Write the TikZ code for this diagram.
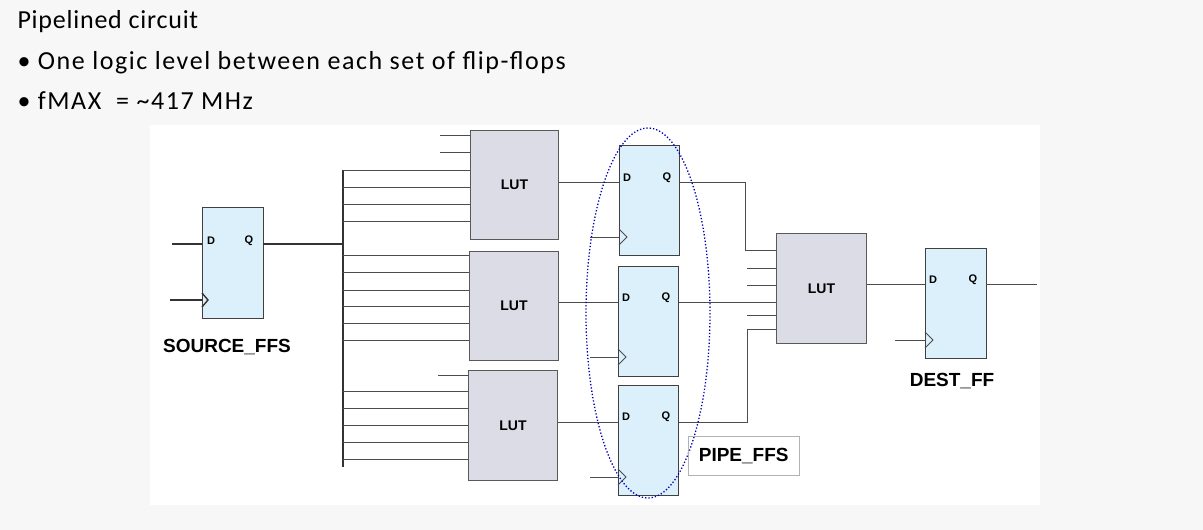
\documentclass[tikz,border=0pt]{standalone}
\usepackage{fontspec}
\setmainfont{Carlito}
\newfontfamily\arl{Liberation Sans}
\begin{document}
\begin{tikzpicture}[x=1pt,y=-1pt,
  ff/.style={draw=black!75,line width=1.2pt,fill=ffc,anchor=north west,inner sep=0},
  lut/.style={draw=black!65,line width=1pt,fill=lutc,anchor=north west,inner sep=0},
  w/.style={draw=black!70,line width=1pt},
  pin/.style={font=\arl\bfseries\fontsize{11}{12}\selectfont,inner sep=1pt},
  luttxt/.style={font=\arl\bfseries\fontsize{14}{16}\selectfont},
  lbl/.style={font=\arl\bfseries\fontsize{19}{22}\selectfont,inner sep=2pt},
  ttl/.style={anchor=west,font=\fontsize{26}{30}\selectfont}]
\definecolor{ffc}{HTML}{DCF0FB}
\definecolor{lutc}{HTML}{DCDCE6}
\useasboundingbox (0,0) rectangle (1203,530);
\fill[black!3] (0,0) rectangle (1203,530);
\fill[white] (150,125) rectangle (1040,505);
% text
\node[ttl] (t0) at (14,22) {\addfontfeature{LetterSpace=3}Pipelined circuit};
\node[ttl] (t1) at (14,63) {\addfontfeature{LetterSpace=6}\textbullet\ One logic level between each set of flip-flops};
\node[ttl] (t2) at (14,101) {\addfontfeature{LetterSpace=6}\textbullet\ fMAX \ = \textasciitilde417 MHz};
% source FF
\node[ff,minimum width=61,minimum height=111] (src) at (202,207) {};
\node[pin] at (211,241) {D}; \node[pin] at (249,241) {Q};
\draw[black!80,line width=1.6pt] (172,244) -- (202,244);
\draw[black!80,line width=1.6pt] (170,300) -- (202,300);
\draw[black!80,line width=1.4pt] (202,293) -- (208,300) -- (202,307);
\node[lbl] (srcl) at (227,347) {SOURCE\_FFS};
\coordinate (bt) at (343,170); \coordinate (bb) at (343,467);
\draw[black!80,line width=1.8pt] (bt) -- (bb);
\draw[black!80,line width=1.6pt] (263,244) -- (343,244);
% LUTs
\node[lut,minimum width=88,minimum height=109] (l1) at (470,130) {};
\node[lut,minimum width=89,minimum height=109] (l2) at (469,251) {};
\node[lut,minimum width=89,minimum height=110] (l3) at (468,370) {};
\node[luttxt] at (l1.center) {LUT};
\node[luttxt] at (l2.center) {LUT};
\node[luttxt] at (l3.center) {LUT};
\foreach \y in {135,152} \draw[w] (440,\y) -- (470,\y);
\foreach \y in {170,187,204,221} \draw[w] (343,\y) -- (470,\y);
\foreach \y in {255,272,290,306,323,340} \draw[w] (343,\y) -- (469,\y);
\draw[w] (438,375) -- (468,375);
\foreach \y in {391,408,425,442,459} \draw[w] (343,\y) -- (468,\y);
% pipe FFs
\node[ff,line width=1pt,minimum width=60,minimum height=110] (p1) at (619,145) {};
\node[ff,line width=1pt,minimum width=60,minimum height=110] (p2) at (618,266) {};
\node[ff,line width=1pt,minimum width=60,minimum height=110] (p3) at (618,385) {};
\foreach \n/\d/\c in {p1/182/237,p2/302/357,p3/422/477}{
  \draw[w] (590,\c) -- (\n.west |- 0,\c);
  \draw[black!70,line width=0.8pt] ([yshift=-8]\n.west |- 0,\c) -- ([xshift=8]\n.west |- 0,\c) -- ([yshift=8]\n.west |- 0,\c);
}
\node[pin] at (627,178) {D}; \node[pin] at (667,178) {Q};
\node[pin] at (626,298) {D}; \node[pin] at (666,298) {Q};
\node[pin] at (626,417) {D}; \node[pin] at (666,417) {Q};
\draw[w] (l1.east |- 0,182) -- (p1.west |- 0,182);
\draw[w] (l2.east |- 0,302) -- (p2.west |- 0,302);
\draw[w] (l3.east |- 0,422) -- (p3.west |- 0,422);
% LUT4
\node[lut,minimum width=90,minimum height=110] (l4) at (776,233) {};
\node[luttxt] at (l4.center) {LUT};
\draw[w] (p1.east |- 0,182) -- (745,182) -- (745,250) -- (776,250);
\draw[w] (p2.east |- 0,302) -- (776,302);
\draw[w] (p3.east |- 0,422) -- (747,422) -- (747,329) -- (776,329);
\foreach \y in {268,285,315} \draw[w] (747,\y) -- (776,\y);
% dest
\node[ff,line width=1pt,minimum width=61,minimum height=110] (dst) at (925,248) {};
\node[pin] at (933,280) {D}; \node[pin] at (973,280) {Q};
\draw[w] (l4.east |- 0,284) -- (925,284);
\draw[w] (986,284) -- (1037,284);
\draw[w] (895,340) -- (925,340);
\draw[black!70,line width=0.8pt] (925,332) -- (933,340) -- (925,348);
\node[lbl] (dstl) at (952,381) {DEST\_FF};
% ellipse + label
\draw[blue!70!black,line width=1.3pt,dotted] (648,313) ellipse [x radius=62,y radius=185];
\node[draw=black!30,minimum width=111,minimum height=39,anchor=north west,inner sep=0] (pipel) at (688,436) {};
\node[lbl] at ([xshift=0]pipel.center) {PIPE\_FFS};
\end{tikzpicture}
\end{document}
